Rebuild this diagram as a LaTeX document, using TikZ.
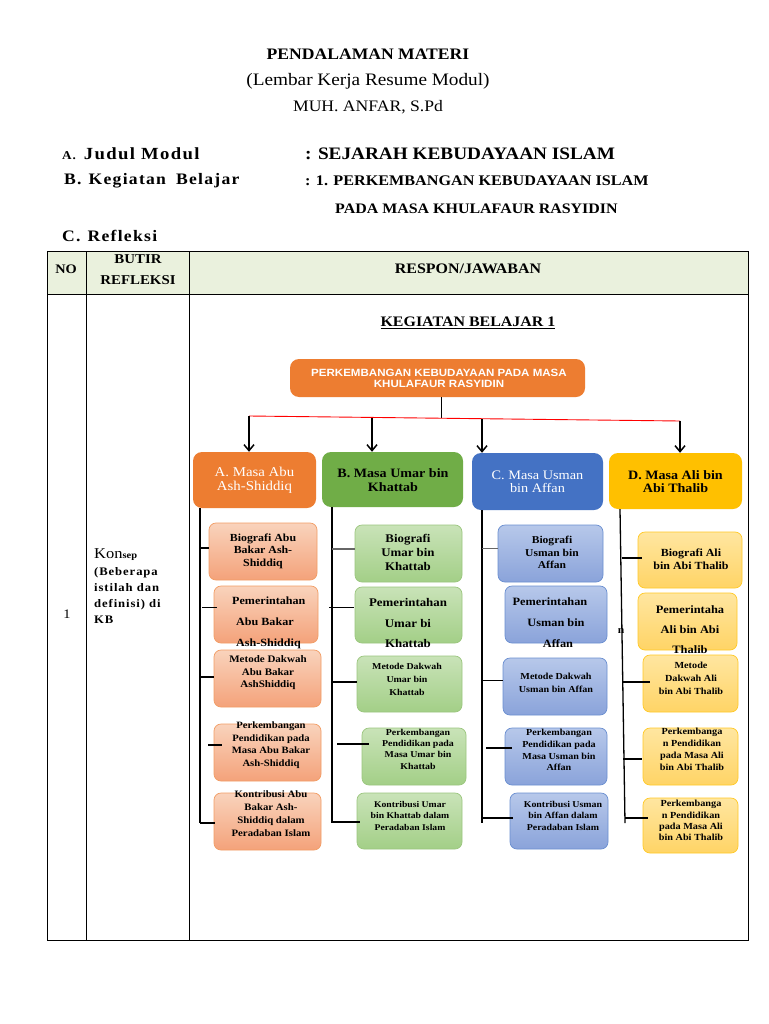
\documentclass[tikz,border=0pt]{standalone}
\usepackage{fontspec}
\setmainfont[FakeStretch=1.1]{Liberation Serif}
\newfontfamily\sansbf[FakeStretch=1.1]{Liberation Sans}
\newfontfamily\wideserif[FakeStretch=1.1,LetterSpace=8]{Liberation Serif}
\usetikzlibrary{arrows.meta}
\definecolor{cOr}{HTML}{ED7D31}
\definecolor{cGr}{HTML}{70AD47}
\definecolor{cBl}{HTML}{4472C4}
\definecolor{cGd}{HTML}{FFC000}
\definecolor{hdrFill}{HTML}{EAF1DD}
\definecolor{aLt}{HTML}{F9D3BC}
\definecolor{aDk}{HTML}{F4A27A}
\definecolor{bLt}{HTML}{C9E3B8}
\definecolor{bDk}{HTML}{A3CF87}
\definecolor{cLt}{HTML}{B7C8EA}
\definecolor{cDk}{HTML}{8AA3DA}
\definecolor{dLt}{HTML}{FFE6A0}
\definecolor{dDk}{HTML}{FFD466}
\newcommand{\myfs}[2]{\fontsize{#1}{#2}\selectfont}
\begin{document}
\begin{tikzpicture}[x=1pt,y=-1pt,
  tline/.style={line width=0.9pt,draw=black},
  lvl/.style={rounded corners=9pt,inner sep=0pt},
  kidbox/.style={rounded corners=7pt,line width=0.7pt,inner sep=0pt},
  kidA/.style={kidbox,draw=cOr!75,top color=aLt,bottom color=aDk},
  kidB/.style={kidbox,draw=cGr!70,top color=bLt,bottom color=bDk},
  kidC/.style={kidbox,draw=cBl!80,top color=cLt,bottom color=cDk},
  kidD/.style={kidbox,draw=cGd!85,top color=dLt,bottom color=dDk},
  kt/.style={align=center,inner sep=0pt,font=\bfseries},
  conn/.style={line width=1.3pt},
  thinc/.style={line width=0.6pt},
  grayc/.style={line width=1.1pt,draw=black!60},
  arr/.style={line width=1.7pt,-{Straight Barb[length=6pt,width=10pt,line width=1.5pt]}},
  ttl/.style={inner sep=0pt,font=\bfseries}
]
\useasboundingbox (0,0) rectangle (768,1024);
\fill[white] (0,0) rectangle (768,1024);

% ---------- heading ----------
\node[ttl,font=\bfseries\myfs{16}{18}] (t1) at (368,54) {PENDALAMAN MATERI};
\node[inner sep=0pt,font=\myfs{17.5}{18}] (t2) at (368,81) {(Lembar Kerja Resume Modul)};
\node[inner sep=0pt,font=\myfs{16}{18}] (t3) at (368,107) {MUH. ANFAR, S.Pd};

\node[ttl,anchor=west,font=\wideserif\bfseries\myfs{17}{18}] (la) at (62,154) {{\myfs{12}{14}A.}\hspace{8pt}Judul Modul};
\node[ttl,anchor=west,font=\bfseries\myfs{17.5}{18}] (va) at (305,154) {: SEJARAH KEBUDAYAAN ISLAM};
\node[ttl,anchor=west,font=\wideserif\bfseries\myfs{16}{18}] (lb) at (64,181) {B.\hspace{7pt}Kegiatan\hspace{10pt}Belajar};
\node[ttl,anchor=west,font=\bfseries\myfs{14.7}{18}] (vb) at (305,181) {: 1. PERKEMBANGAN KEBUDAYAAN ISLAM};
\node[ttl,anchor=west,font=\bfseries\myfs{14.5}{18}] (vb2) at (335,209) {PADA MASA KHULAFAUR RASYIDIN};
\node[ttl,anchor=west,font=\wideserif\bfseries\myfs{16}{18}] (lc) at (62,236) {C.\hspace{7pt}Refleksi};

% ---------- table ----------
\fill[hdrFill] (47,251) rectangle (748,294);
\draw[tline] (47,251) rectangle (748,940);
\draw[tline] (47,294) -- (748,294);
\draw[tline] (86,251) -- (86,940);
\draw[tline] (189,251) -- (189,940);
\node[ttl,font=\bfseries\myfs{13}{21}] (hno) at (66,269) {NO};
\node[ttl,align=center,font=\bfseries\myfs{13.5}{21}] (hbr) at (138,270) {BUTIR\\REFLEKSI};
\node[ttl,font=\bfseries\myfs{14.5}{21}] (hrj) at (468,269) {RESPON/JAWABAN};
\node[inner sep=0pt,font=\myfs{13}{15}] (n1) at (67,614) {1};
\node[inner sep=0pt,anchor=west] (ks1) at (94,555) {{\myfs{15}{16}Kon}{\myfs{9.5}{16}\bfseries sep}};
\node[inner sep=0pt,anchor=north west,align=left,font=\wideserif\bfseries\myfs{11.5}{16}] (ks2) at (94,567)
  {(Beberapa\\istilah dan\\definisi) di\\KB};
\node[ttl,font=\bfseries\myfs{14.5}{15}] (kb) at (468,323) {\underline{KEGIATAN BELAJAR 1}};

% ---------- top box ----------
\node[lvl,fill=cOr,minimum width=295pt,minimum height=38pt] (T) at (437.5,378) {};
\node[inner sep=0pt,align=center,text=white,font=\sansbf\bfseries\myfs{10.5}{11}] (Tt) at (439,378.5)
  {PERKEMBANGAN KEBUDAYAAN PADA MASA\\KHULAFAUR RASYIDIN};

% ---------- level 2 ----------
\node[lvl,fill=cOr,minimum width=123pt,minimum height=56pt] (A) at (254.5,480) {};
\node[lvl,fill=cGr,minimum width=141pt,minimum height=55pt] (B) at (392.5,479.5) {};
\node[lvl,fill=cBl,minimum width=131pt,minimum height=57pt] (C) at (537.5,481.5) {};
\node[lvl,fill=cGd,minimum width=133pt,minimum height=56pt] (D) at (675.5,481) {};
\node[inner sep=0pt,align=center,text=white,font=\myfs{13.5}{14}] (At) at (254.5,480) {A. Masa Abu\\Ash-Shiddiq};
\node[kt,font=\bfseries\myfs{12.8}{14}] (Bt) at (393,480) {B. Masa Umar bin\\Khattab};
\node[inner sep=0pt,align=center,text=white,font=\myfs{13}{13}] (Ct) at (537.5,481.5) {C. Masa Usman\\bin Affan};
\node[kt,font=\bfseries\myfs{12.8}{13}] (Dt) at (675.5,481.5) {D. Masa Ali bin\\Abi Thalib};

% connectors from top box
\coordinate (J) at (441.5,418);
\coordinate (RA) at (249,416);
\coordinate (RB) at (372,417.5);
\coordinate (RC) at (482,418.8);
\coordinate (RD) at (680,421);
\draw[line width=1.6pt] (J |- T.south) -- (J);
\draw[red,line width=0.9pt] (RA) -- (RD);
\draw[arr] (RA) -- (RA |- A.north);
\draw[arr] (RB) -- (RB |- B.north);
\draw[arr] (RC) -- (RC |- C.north);
\draw[arr] (RD) -- (RD |- D.north);

% ---------- level 3 boxes ----------
\node[kidA,minimum width=108pt,minimum height=57pt] (A1) at (263,551.5) {};
\node[kidA,minimum width=104pt,minimum height=57pt] (A2) at (266,614.5) {};
\node[kidA,minimum width=107pt,minimum height=57pt] (A3) at (267.5,678.5) {};
\node[kidA,minimum width=107pt,minimum height=57pt] (A4) at (267.5,752.5) {};
\node[kidA,minimum width=107pt,minimum height=57pt] (A5) at (267.5,821.5) {};

\node[kidB,minimum width=107pt,minimum height=57pt] (B1) at (408.5,553.5) {};
\node[kidB,minimum width=107pt,minimum height=56pt] (B2) at (408.5,615) {};
\node[kidB,minimum width=105pt,minimum height=56pt] (B3) at (409.5,684) {};
\node[kidB,minimum width=104pt,minimum height=57pt] (B4) at (414,756.5) {};
\node[kidB,minimum width=105pt,minimum height=56pt] (B5) at (409.5,821) {};

\node[kidC,minimum width=105pt,minimum height=57pt] (C1) at (550.5,553.5) {};
\node[kidC,minimum width=102pt,minimum height=57pt] (C2) at (556,614.5) {};
\node[kidC,minimum width=104pt,minimum height=57pt] (C3) at (555,686.5) {};
\node[kidC,minimum width=102pt,minimum height=57pt] (C4) at (556,756.5) {};
\node[kidC,minimum width=98pt,minimum height=56pt] (C5) at (559,821) {};

\node[kidD,minimum width=104pt,minimum height=56pt] (D1) at (690,560) {};
\node[kidD,minimum width=99pt,minimum height=57pt] (D2) at (687.5,621.5) {};
\node[kidD,minimum width=95pt,minimum height=57pt] (D3) at (690.5,683.5) {};
\node[kidD,minimum width=95pt,minimum height=57pt] (D4) at (690.5,756.5) {};
\node[kidD,minimum width=95pt,minimum height=55pt] (D5) at (690.5,825.5) {};

% ---------- level 3 texts ----------
\node[kt,font=\bfseries\myfs{10.8}{12.5}] (A1t) at (263,551) {Biografi Abu\\Bakar Ash-\\Shiddiq};
\node[kt,align=left,anchor=west,font=\bfseries\myfs{11}{21}] (A2t) at (232,623) {Pemerintahan\\\hspace{4pt}Abu Bakar\\\hspace{4pt}Ash-Shiddiq};
\node[kt,font=\bfseries\myfs{10}{12.5}] (A3t) at (268,673) {Metode Dakwah\\Abu Bakar\\AshShiddiq};
\node[kt,font=\bfseries\myfs{9.7}{12.6}] (A4t) at (271,745) {Perkembangan\\Pendidikan pada\\Masa Abu Bakar\\Ash-Shiddiq};
\node[kt,font=\bfseries\myfs{9.8}{13}] (A5t) at (271,813.5) {Kontribusi Abu\\Bakar Ash-\\Shiddiq dalam\\Peradaban Islam};

\node[kt,font=\bfseries\myfs{11.7}{14}] (B1t) at (408,552) {Biografi\\Umar bin\\Khattab};
\node[kt,font=\bfseries\myfs{11.7}{20.5}] (B2t) at (408,623) {Pemerintahan\\Umar bi\\Khattab};
\node[kt,font=\bfseries\myfs{9}{13}] (B3t) at (407,679) {Metode Dakwah\\Umar bin\\Khattab};
\node[kt,font=\bfseries\myfs{9}{11.3}] (B4t) at (418,749) {Perkembangan\\Pendidikan pada\\Masa Umar bin\\Khattab};
\node[kt,font=\bfseries\myfs{8.8}{11.5}] (B5t) at (410,815.5) {Kontribusi Umar\\bin Khattab dalam\\Peradaban Islam};

\node[kt,font=\bfseries\myfs{10.5}{12.5}] (C1t) at (552,552.5) {Biografi\\Usman bin\\Affan};
\node[kt,font=\bfseries\myfs{11.2}{21}] (C2t) at (550,623) {Pemerintahan\\\hspace{12pt}Usman bin\\\hspace{16pt}Affan};
\node[kt,font=\bfseries\myfs{9.2}{13}] (C3t) at (556,682.5) {Metode Dakwah\\Usman bin Affan};
\node[kt,font=\bfseries\myfs{9.2}{11.7}] (C4t) at (559,750) {Perkembangan\\Pendidikan pada\\Masa Usman bin\\Affan};
\node[kt,font=\bfseries\myfs{9}{11.5}] (C5t) at (563,815.5) {Kontribusi Usman\\bin Affan dalam\\Peradaban Islam};

\node[kt,font=\bfseries\myfs{10.9}{12.5}] (D1t) at (691,559) {Biografi Ali\\bin Abi Thalib};
\node[kt,font=\bfseries\myfs{11.3}{20}] (D2t) at (690,630) {Pemerintaha\\Ali bin Abi\\Thalib};
\node[kt,font=\bfseries\myfs{10.5}{12}] (Dn) at (621,631) {n};
\node[kt,font=\bfseries\myfs{9.3}{13}] (D3t) at (691,678) {Metode\\Dakwah Ali\\bin Abi Thalib};
\node[kt,font=\bfseries\myfs{9.3}{12}] (D4t) at (692,749.5) {Perkembanga\\n Pendidikan\\pada Masa Ali\\bin Abi Thalib};
\node[kt,font=\bfseries\myfs{9.3}{11.3}] (D5t) at (691,820.5) {Perkembanga\\n Pendidikan\\pada Masa Ali\\bin Abi Thalib};

% ---------- spines ----------
\coordinate (SA) at (200,823);
\coordinate (SB) at (332,823);
\coordinate (SC) at (482,823);
\coordinate (SD) at (625,823);
\draw[conn] (SA |- A.south) -- (SA);
\draw[conn] (SB |- B.south) -- (SB);
\draw[conn] (SC |- C.south) -- (SC);
\draw[conn] (D.south) ++(-55.5,0) -- (SD);

% ---------- child connectors ----------
\draw[conn]  (A1.west) ++(0,-3.5) -- ++(-9,0);
\draw[thinc] (A2.west) ++(3,-7.5) -- ++(-15,0);
\draw[conn]  (A3.west) ++(0,-1.5) -- ++(-14,0);
\draw[conn]  (A4.west) ++(8,-7.5) -- ++(-14,0);
\draw[conn]  (A5.west) ++(1,1.5) -- ++(-15,0);

\draw[grayc] (B1.west) ++(0,-4.5) -- ++(-23,0);
\draw[thinc] (B2.west) ++(-1,-8) -- ++(-25,0);
\draw[conn]  (B3.west) ++(0,-2) -- ++(-25,0);
\draw[conn]  (B4.west) ++(7,-12.5) -- ++(-32,0);
\draw[conn]  (B5.west) ++(3,1) -- ++(-27,0);

\draw[grayc,line width=0.8pt] (C1.west) ++(0,-5.5) -- ++(-16,0);
\draw[thinc] (C3.west) ++(0,-6.5) -- ++(-21,0);
\draw[conn]  (C4.west) ++(7,-8.5) -- ++(-26,0);
\draw[conn]  (C5.west) ++(3,-3) -- ++(-30,0);

\draw[conn]  (D1.west) ++(4,-2) -- ++(-20,0);
\draw[conn]  (D3.west) ++(7,-1.5) -- ++(-27,0);
\draw[conn]  (D4.west) ++(-1,2.5) -- ++(-19,0);
\draw[conn]  (D5.west) ++(5,-7.5) -- ++(-23,0);
\end{tikzpicture}
\end{document}
